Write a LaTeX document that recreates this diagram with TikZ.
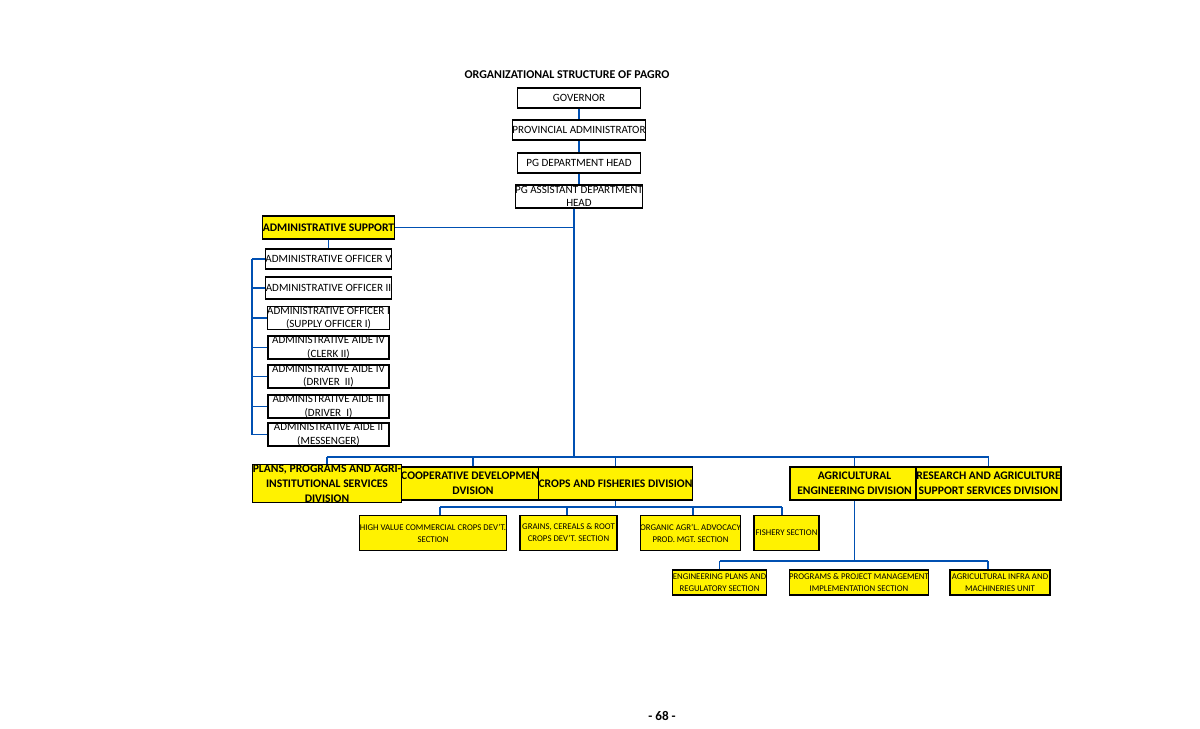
\documentclass[tikz,border=0pt]{standalone}
\usepackage{fontspec}
\setmainfont{Carlito}
\usetikzlibrary{positioning}

\begin{document}
\begin{tikzpicture}[x=0.02cm, y=-0.02cm,
	box/.style={draw, line width=0.6pt, align=center, inner sep=0pt, font=\fontsize{6.3}{7.6}\selectfont},
	ydiv/.style={box, fill=yellow, font=\fontsize{6.6}{8.4}\selectfont\bfseries},
	ysec/.style={box, fill=yellow, font=\fontsize{5}{6.8}\selectfont},
	link/.style={draw=blue!55!cyan!70!black, line width=0.7pt}]

	\useasboundingbox (0,0) rectangle (1200,729);

	%% Top chain
	\node[font=\fontsize{6.8}{8}\selectfont\bfseries] (title) at (567,75) {ORGANIZATIONAL STRUCTURE OF PAGRO};
	\node[box, minimum width=2.46cm, minimum height=0.4cm] (gov) at (579,98) {GOVERNOR};
	\node[box, minimum width=2.46cm, minimum height=0.4cm] (padmin) at (579,130) {PROVINCIAL ADMINISTRATOR};
	\node[box, minimum width=2.46cm, minimum height=0.4cm] (dhead) at (579,163) {PG DEPARTMENT HEAD};
	\node[box, minimum width=2.46cm, minimum height=0.46cm] (ahead) at (579,196.5) {PG ASSISTANT DEPARTMENT\\HEAD};
	\draw[link] (gov) -- (padmin);
	\draw[link] (padmin) -- (dhead);
	\draw[link] (dhead) -- (ahead);

	\coordinate (trunk) at (574,457);
	\draw[link] (ahead.south -| trunk) -- (trunk);

	%% Administrative support
	\node[ydiv, minimum width=2.42cm, minimum height=0.46cm] (asupp) at (328.5,227.5) {ADMINISTRATIVE SUPPORT};
	\draw[link] (asupp.east) -- (asupp.east -| trunk);

	\node[box, minimum width=2.42cm, minimum height=0.4cm] (ao5) at (328.5,259) {ADMINISTRATIVE OFFICER V};
	\node[box, minimum width=2.42cm, minimum height=0.44cm] (ao2) at (328.5,288) {ADMINISTRATIVE OFFICER II};
	\node[box, minimum width=2.42cm, minimum height=0.44cm] (ao1) at (328.5,318) {ADMINISTRATIVE OFFICER I\\(SUPPLY OFFICER I)};
	\node[box, minimum width=2.42cm, minimum height=0.46cm] (clerk) at (328.5,347.5) {ADMINISTRATIVE AIDE IV\\(CLERK II)};
	\node[box, minimum width=2.42cm, minimum height=0.46cm] (drv2) at (328.5,376.5) {ADMINISTRATIVE AIDE IV\\(DRIVER~~II)};
	\node[box, minimum width=2.42cm, minimum height=0.46cm] (drv1) at (328.5,406.5) {ADMINISTRATIVE AIDE III\\(DRIVER~~I)};
	\node[box, minimum width=2.42cm, minimum height=0.46cm] (msgr) at (328.5,434.5) {ADMINISTRATIVE AIDE II\\(MESSENGER)};
	\draw[link] (asupp) -- (ao5);

	\coordinate (brk) at (252,259);
	\draw[link] (ao5.west -| brk) -- (msgr.west -| brk);
	\foreach \n in {ao5,ao2,ao1,clerk,drv2,drv1,msgr}
		\draw[link] (\n.west) -- (\n.west -| brk);

	%% Divisions
	\node[ydiv, minimum width=2.48cm, minimum height=0.66cm] (plans) at (327,483.5) {PLANS, PROGRAMS AND AGRI-\\INSTITUTIONAL SERVICES\\DIVISION};
	\node[ydiv, minimum width=2.56cm, minimum height=0.66cm] (coop) at (473,483.5) {COOPERATIVE DEVELOPMENT\\DVISION};
	\node[ydiv, minimum width=2.58cm, minimum height=0.66cm] (crops) at (615.5,483.5) {CROPS AND FISHERIES DIVISION};
	\node[ydiv, line width=1.3pt, minimum width=2.58cm, minimum height=0.66cm] (eng) at (854.5,483.5) {AGRICULTURAL\\ENGINEERING DIVISION};
	\node[ydiv, line width=1.3pt, minimum width=2.54cm, minimum height=0.66cm] (rsch) at (988.5,483.5) {RESEARCH AND AGRICULTURE\\SUPPORT SERVICES DIVISION};

	\coordinate (dbus) at (0,457);
	\draw[link] (plans.north |- dbus) -- (rsch.north |- dbus);
	\foreach \n in {plans,coop,crops,eng,rsch}
		\draw[link] (\n.north |- dbus) -- (\n.north);

	%% Crops and fisheries sections
	\node[ysec, minimum width=2.48cm, minimum height=0.7cm] (hvcc) at (433,533) {HIGH VALUE COMMERCIAL CROPS DEV'T.\\SECTION};
	\node[ysec, minimum width=1.94cm, minimum height=0.7cm] (grains) at (568.5,533) {GRAINS, CEREALS \& ROOT\\CROPS DEV'T. SECTION};
	\node[ysec, minimum width=1.94cm, minimum height=0.7cm] (organic) at (690.5,533) {ORGANIC AGR'L. ADVOCACY\\PROD. MGT. SECTION};
	\node[ysec, minimum width=1.3cm, minimum height=0.7cm] (fish) at (786.5,533) {FISHERY SECTION};

	\coordinate (cbus) at (0,507);
	\draw[link] (crops.south) -- (crops.south |- cbus);
	\draw[link] (440,507) -- (782,507);
	\draw[link] (440,507) -- (hvcc.north -| 440,0);
	\draw[link] (567,507) -- (grains.north -| 567,0);
	\draw[link] (693,507) -- (organic.north -| 693,0);
	\draw[link] (782,507) -- (fish.north -| 782,0);

	%% Engineering sections
	\node[ysec, minimum width=1.54cm, minimum height=0.5cm] (eplans) at (719.5,582.5) {ENGINEERING PLANS AND\\REGULATORY SECTION};
	\node[ysec, minimum width=2.68cm, minimum height=0.5cm] (ppm) at (859,582.5) {PROGRAMS \& PROJECT MANAGEMENT\\IMPLEMENTATION SECTION};
	\node[ysec, minimum width=2cm, minimum height=0.5cm] (infra) at (1000,582.5) {AGRICULTURAL INFRA AND\\MACHINERIES UNIT};

	\coordinate (ebus) at (0,561);
	\draw[link] (eng.south) -- (eng.south |- ebus);
	\draw[link] (eplans.north |- ebus) -- (988,561);
	\draw[link] (eplans.north |- ebus) -- (eplans.north);
	\draw[link] (988,561) -- (infra.north -| 988,0);

	\node[font=\fontsize{7.5}{9}\selectfont\bfseries] (page) at (662,716) {- 68 -};

\end{tikzpicture}
\end{document}
